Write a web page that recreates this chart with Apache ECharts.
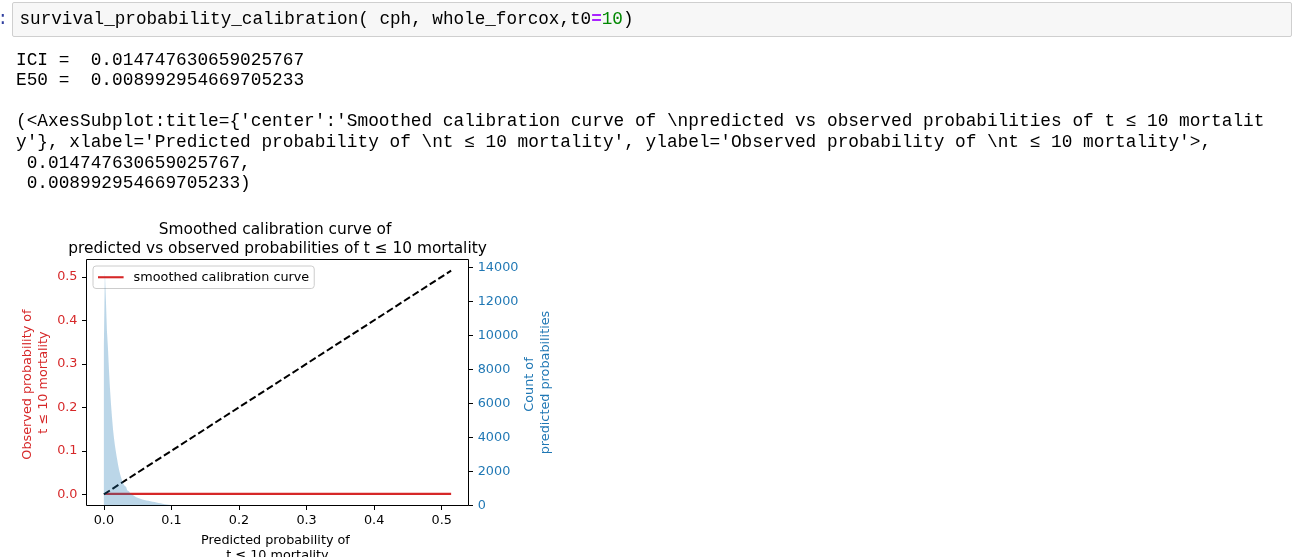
<!DOCTYPE html>
<html>
<head>
<meta charset="utf-8">
<script src="https://cdn.jsdelivr.net/npm/echarts@6/dist/echarts.min.js"></script>
<style>
html,body{margin:0;padding:0;background:#fff;width:1296px;height:557px;overflow:hidden;}
#chart{position:absolute;left:0;top:0;width:1296px;height:557px;}
.mono{position:absolute;font-family:"Liberation Mono",monospace;font-size:17.8px;line-height:20.6px;white-space:pre;color:#000;margin:0;}
#cellbox{position:absolute;left:12px;top:2px;width:1280px;height:35px;border:1px solid #cfcfcf;background:#f7f7f7;border-radius:2px;box-sizing:border-box;}
.op{color:#aa22ff;font-weight:bold;}
.num{color:#008800;}
</style>
</head>
<body>
<div id="chart"></div>
<div id="cellbox"></div>
<div class="mono" style="left:-77px;width:85px;text-align:right;top:8.7px;color:#303F9F;font-size:17.65px;">In [ ]:</div>
<div class="mono" style="left:19.5px;top:8.7px;font-size:17.65px;">survival_probability_calibration( cph, whole_forcox,t0<span class="op">=</span><span class="num">10</span>)</div>
<div class="mono" style="left:16px;top:49.7px;">ICI =  0.014747630659025767
E50 =  0.008992954669705233

(&lt;AxesSubplot:title={'center':'Smoothed calibration curve of \npredicted vs observed probabilities of t ≤ 10 mortalit
y'}, xlabel='Predicted probability of \nt ≤ 10 mortality', ylabel='Observed probability of \nt ≤ 10 mortality'&gt;,
 0.014747630659025767,
 0.008992954669705233)</div>
<script>
// ---- data ----
const xTicks = [0, 0.1, 0.2, 0.3, 0.4, 0.5];
const leftTicks = [0, 0.1, 0.2, 0.3, 0.4, 0.5];
const rightTicks = [0, 2000, 4000, 6000, 8000, 10000, 12000, 14000];
const calibX = [0.002, 0.1, 0.2, 0.3, 0.4, 0.514];
const calibY = [0.001, 0.001, 0.001, 0.001, 0.001, 0.001];
const diagX = [0, 0.514];
const diagY = [0, 0.514];
const histBinStart = 0;
const histBinWidth = 0.0015;
const histCounts = [
  9400, 13750, 12100, 10300, 9300, 8000, 6900, 6000, 5200, 4500,
  3950, 3500, 3100, 2750, 2400, 2100, 1850, 1650, 1470, 1320,
  1190, 1080, 980, 900, 820, 760, 700, 650, 600, 560,
  520, 490, 460, 435, 410, 390, 370, 350, 335, 320,
  305, 295, 285, 275, 265, 250, 240, 225, 215, 200,
  185, 175, 160, 150, 135, 125, 110, 100, 90, 80,
  70, 60, 50, 40, 30, 25, 20, 15
];

// ---- build series data ----
const histData = histCounts.map((c, i) => [histBinStart + i * histBinWidth, c]);
histData.push([histBinStart + histCounts.length * histBinWidth, 0]);
const calibData = calibX.map((x, i) => [x, calibY[i]]);
const diagData = diagX.map((x, i) => [x, diagY[i]]);

const FONT = 'DejaVu Sans';
const RED = '#d62728';
const BLUE = '#1f77b4';

const chart = echarts.init(document.getElementById('chart'), null, {renderer: 'canvas'});
chart.setOption({
  animation: false,
  backgroundColor: 'transparent',
  graphic: [{
    type: 'text',
    x: 277.5,
    y: 221,
    z: 10,
    style: {
      text: 'Smoothed calibration curve of \npredicted vs observed probabilities of t ≤ 10 mortality',
      textAlign: 'center',
      textVerticalAlign: 'top',
      fill: '#000',
      font: '15.4px "DejaVu Sans"',
      lineHeight: 18.5
    }
  }],
  grid: {
    left: 86.5, top: 259.5, width: 382, height: 246,
    outerBoundsMode: 'none', containLabel: false,
    show: true, borderColor: '#000', borderWidth: 1, backgroundColor: 'transparent'
  },
  legend: {
    data: [{name: 'smoothed calibration curve', icon: 'rect'}],
    left: 93, top: 266,
    orient: 'horizontal',
    padding: [4, 5, 4, 5],
    itemWidth: 25.6, itemHeight: 2.1,
    backgroundColor: 'rgba(255,255,255,0.8)',
    borderColor: '#cccccc', borderWidth: 1, borderRadius: 3,
    selectedMode: false,
    z: 4,
    textStyle: {fontFamily: FONT, fontSize: 12.8, color: '#000', lineHeight: 14.5, padding: [0, 0, 0, 5]}
  },
  xAxis: {
    type: 'value', min: -0.0257, max: 0.5397,
    axisLine: {show: false, onZero: false},
    splitLine: {show: false},
    axisTick: {show: true, length: 4.5, lineStyle: {color: '#000', width: 1}, customValues: xTicks},
    axisLabel: {customValues: xTicks, formatter: v => v.toFixed(1), margin: 9, color: '#000', fontSize: 12.8, fontFamily: FONT},
    name: 'Predicted probability of \nt ≤ 10 mortality',
    nameLocation: 'middle', nameGap: 27.5,
    nameTextStyle: {color: '#000', fontSize: 12.8, fontFamily: FONT, lineHeight: 15.4}
  },
  yAxis: [{
    type: 'value', position: 'left', min: -0.0257, max: 0.5397,
    axisLine: {show: false, onZero: false},
    splitLine: {show: false},
    axisTick: {show: true, length: 4.5, lineStyle: {color: '#000', width: 1}, customValues: leftTicks},
    axisLabel: {customValues: leftTicks, formatter: v => v.toFixed(1), margin: 9, color: RED, fontSize: 12.8, fontFamily: FONT},
    name: 'Observed probability of \nt ≤ 10 mortality',
    nameLocation: 'middle', nameGap: 35.5, nameRotate: 90,
    nameTextStyle: {color: RED, fontSize: 12.8, fontFamily: FONT, lineHeight: 15.4}
  }, {
    type: 'value', position: 'right', min: 0, max: 14453,
    axisLine: {show: false, onZero: false},
    splitLine: {show: false},
    axisTick: {show: true, length: 4.5, lineStyle: {color: '#000', width: 1}, customValues: rightTicks},
    axisLabel: {customValues: rightTicks, formatter: v => String(v), margin: 9.2, color: BLUE, fontSize: 12.8, fontFamily: FONT},
    name: 'Count of \npredicted probabilities',
    nameLocation: 'middle', nameGap: 49, nameRotate: 90,
    nameTextStyle: {color: BLUE, fontSize: 12.8, fontFamily: FONT, lineHeight: 15.4}
  }],
  series: [{
    name: 'smoothed calibration curve',
    type: 'line', xAxisIndex: 0, yAxisIndex: 0,
    data: calibData, symbol: 'none', z: 2,
    lineStyle: {color: RED, width: 2.1}, itemStyle: {color: RED}
  }, {
    name: 'diagonal',
    type: 'line', xAxisIndex: 0, yAxisIndex: 0,
    data: diagData, symbol: 'none', z: 3,
    lineStyle: {color: '#000', width: 2.0, type: [7.1, 3.1]}
  }, {
    name: 'predicted probabilities',
    type: 'line', xAxisIndex: 0, yAxisIndex: 1,
    step: 'end', data: histData, symbol: 'none', z: 5,
    lineStyle: {width: 0, opacity: 0},
    areaStyle: {color: 'rgba(31,119,180,0.3)', opacity: 1, origin: 'start'}
  }]
});
</script>
</body>
</html>
